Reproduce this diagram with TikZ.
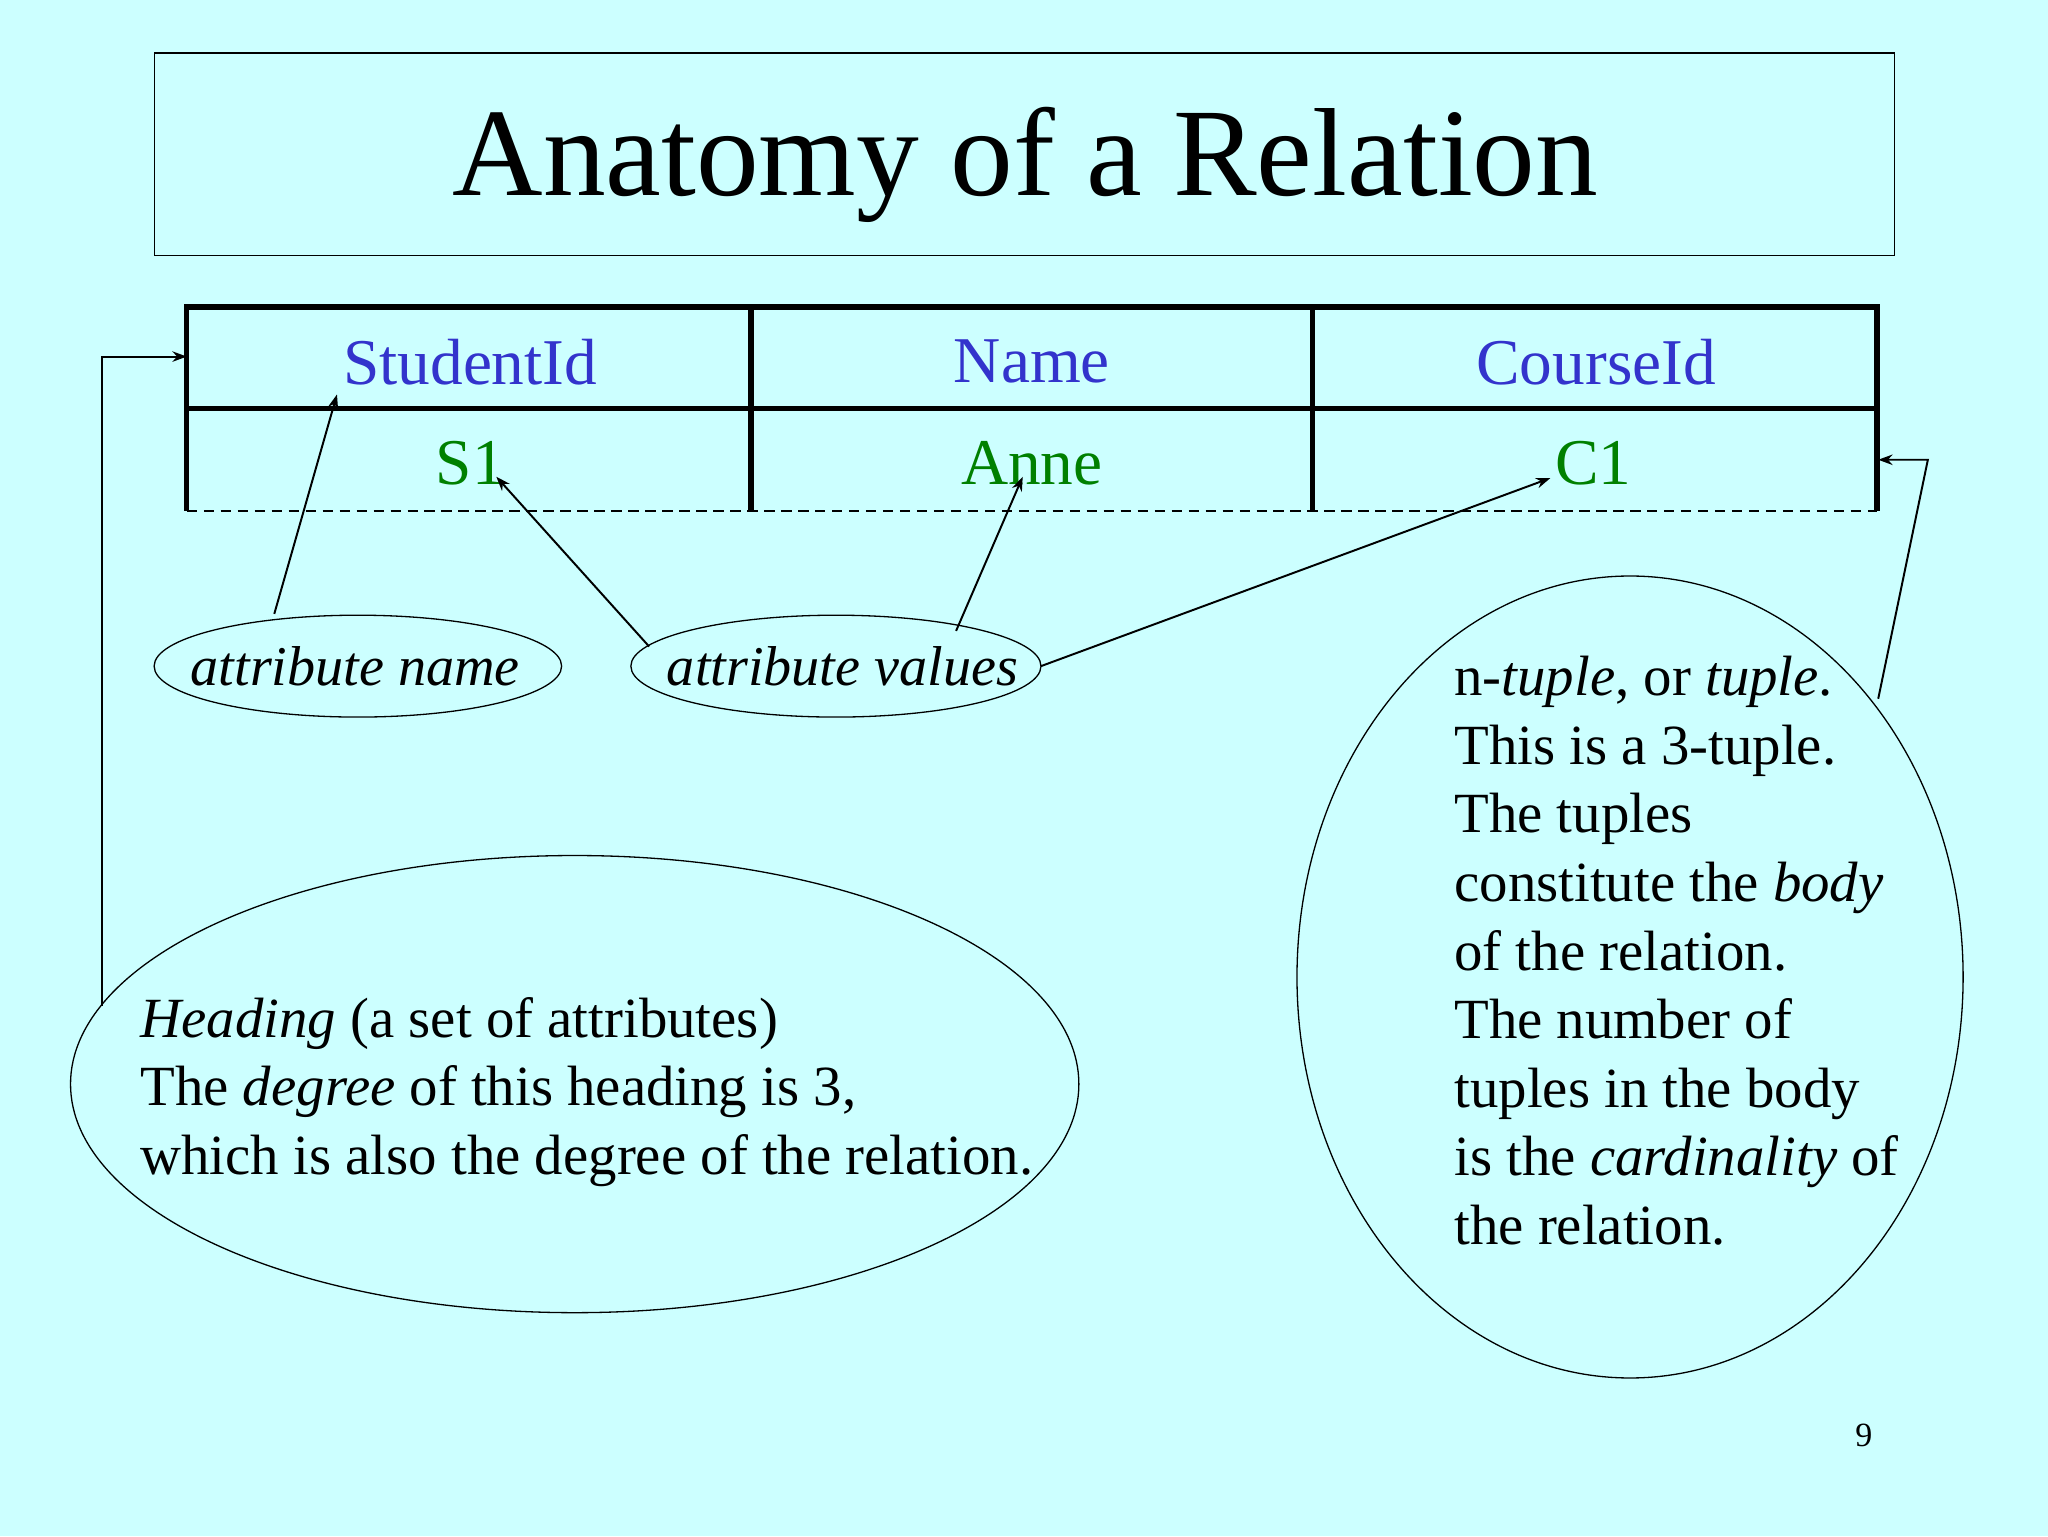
\documentclass[tikz,border=0pt]{standalone}
\usepackage{fontspec}
\setmainfont{Liberation Serif}
\usetikzlibrary{shapes.geometric,arrows.meta}
\definecolor{bg}{HTML}{CCFFFF}
\definecolor{hblue}{HTML}{3333CC}
\definecolor{vgreen}{HTML}{008000}
\begin{document}
\begin{tikzpicture}[x=1pt,y=-1pt,
  oval/.style={draw,line width=1pt},
  arr/.style={line width=1.5pt,-{Stealth[length=11pt,width=8pt]}},
  thick line/.style={line width=4pt},
  hd/.style={text=hblue,font=\fontsize{50}{60}\selectfont},
  val/.style={text=vgreen,font=\fontsize{50}{60}\selectfont},
  ovtxt/.style={font=\fontsize{43}{48}\selectfont\itshape},
  body/.style={font=\fontsize{43.5}{52.5}\selectfont,align=left,anchor=north west}]
\fill[bg] (0,0) rectangle (1568,1176);
\useasboundingbox (0,0) rectangle (1568,1176);
\node[draw,line width=1pt,minimum width=1332pt,minimum height=155pt,anchor=north west] (title) at (118,40) {};
\node[font=\fontsize{96}{100}\selectfont] (tt) at (785,126) {Anatomy of a Relation};
% table
\draw[thick line] (143,391) -- (143,235) -- (1437,235) -- (1437,391);
\draw[thick line] (143,313) -- (1437,313);
\draw[thick line] (575,235) -- (575,391);
\draw[thick line] (1005,235) -- (1005,391);
\draw[line width=1.5pt,dash pattern=on 8pt off 5pt] (143,391) -- (1437,391);
\node[hd] (h1) at (360,277) {StudentId};
\node[hd] (h2) at (790,277) {Name};
\node[hd] (h3) at (1222,277) {CourseId};
\node[val] (v1) at (360,355) {S1};
\node[val] (v2) at (790,355) {Anne};
\node[val] (v3) at (1220,355) {C1};
% ovals
\draw[oval] (274,510) ellipse [x radius=156, y radius=39];
\draw[oval] (640,510) ellipse [x radius=157, y radius=39];
\draw[oval] (440,830) ellipse [x radius=386, y radius=175];
\draw[oval] (1248,748) ellipse [x radius=255, y radius=307];
\node[ovtxt] (an) at (272,510) {attribute name};
\node[ovtxt] (av) at (645,510) {attribute values};
\node[body] (hdt) at (104,760) {\textit{Heading} (a set of attributes)\\The \textit{degree} of this heading is 3,\\which is also the degree of the relation.};
\node[body] (tpt) at (1110,499) {n-\textit{tuple}, or \textit{tuple}.\\This is a 3-tuple.\\The tuples\\constitute the \textit{body}\\of the relation.\\The number of\\tuples in the body\\is the \textit{cardinality} of\\the relation.};
\node[font=\fontsize{26}{30}\selectfont] (pg) at (1427,1099) {9};
% connectors
\coordinate (a1s) at (210,470); \coordinate (a1e) at (258,302);
\coordinate (a2s) at (497,495); \coordinate (a2e) at (380,365);
\coordinate (a3s) at (732,483); \coordinate (a3e) at (783,365);
\coordinate (a4s) at (797,510); \coordinate (a4e) at (1187,366);
\coordinate (a5s) at (1438,535); \coordinate (a5m) at (1476,352); \coordinate (a5e) at (1438,352);
\coordinate (a6s) at (78,770); \coordinate (a6m) at (78,273); \coordinate (a6e) at (143,273);
\draw[arr] (a1s) -- (a1e);
\draw[arr] (a2s) -- (a2e);
\draw[arr] (a3s) -- (a3e);
\draw[arr] (a4s) -- (a4e);
\draw[arr] (a5s) -- (a5m) -- (a5e);
\draw[arr] (a6s) -- (a6m) -- (a6e);
\end{tikzpicture}
\end{document}
